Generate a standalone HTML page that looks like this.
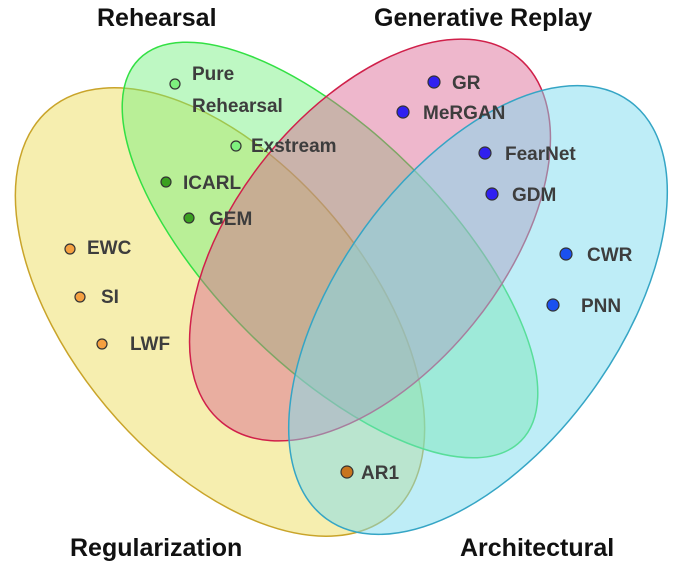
<!DOCTYPE html>
<html><head><style>
html,body{margin:0;padding:0;background:#fff;width:685px;height:564px;overflow:hidden}
svg{display:block}
text{font-family:"Liberation Sans",sans-serif;font-weight:bold}
.l{font-size:19px;fill:#3d3d3d}
.t{font-size:25px;fill:#111}
circle.d{stroke:#333;stroke-width:1.2}
</style></head><body>
<svg width="685" height="564" viewBox="0 0 685 564" xmlns="http://www.w3.org/2000/svg">
<ellipse cx="220" cy="312" rx="265" ry="148" transform="rotate(50 220 312)" fill="#f0e27a" fill-opacity="0.6" stroke="#c9a42a" stroke-width="1.5"/>
<ellipse cx="330" cy="250" rx="270" ry="116" transform="rotate(45 330 250)" fill="#6ef07a" fill-opacity="0.45" stroke="#33e044" stroke-width="1.5"/>
<ellipse cx="370" cy="240" rx="235" ry="133" transform="rotate(-51 370 240)" fill="#d9608f" fill-opacity="0.45" stroke="#d0204a" stroke-width="1.5"/>
<ellipse cx="478" cy="310" rx="258" ry="140" transform="rotate(-54 478 310)" fill="#7ddcf0" fill-opacity="0.5" stroke="#35a5c5" stroke-width="1.5"/>

<text class="t" x="97" y="26">Rehearsal</text>
<text class="t" x="374" y="26">Generative Replay</text>
<text class="t" x="70" y="556">Regularization</text>
<text class="t" x="460" y="556">Architectural</text>

<circle class="d" cx="175" cy="84" r="5" fill="#7ef07e"/>
<text class="l" x="192" y="80">Pure</text>
<text class="l" x="192" y="112">Rehearsal</text>
<circle class="d" cx="236" cy="146" r="5" fill="#7ef07e"/>
<text class="l" x="251" y="152">Exstream</text>
<circle class="d" cx="166" cy="182" r="5" fill="#3aa020"/>
<text class="l" x="183" y="189">ICARL</text>
<circle class="d" cx="189" cy="218" r="5" fill="#3aa020"/>
<text class="l" x="209" y="225">GEM</text>
<circle class="d" cx="70" cy="249" r="5" fill="#f5a040"/>
<text class="l" x="87" y="254">EWC</text>
<circle class="d" cx="80" cy="297" r="5" fill="#f5a040"/>
<text class="l" x="101" y="303">SI</text>
<circle class="d" cx="102" cy="344" r="5" fill="#f5a040"/>
<text class="l" x="130" y="350">LWF</text>
<circle class="d" cx="347" cy="472" r="6" fill="#c8741e"/>
<text class="l" x="361" y="479">AR1</text>
<circle class="d" cx="434" cy="82" r="6" fill="#3020f0"/>
<text class="l" x="452" y="89">GR</text>
<circle class="d" cx="403" cy="112" r="6" fill="#3020f0"/>
<text class="l" x="423" y="119">MeRGAN</text>
<circle class="d" cx="485" cy="153" r="6" fill="#3020f0"/>
<text class="l" x="505" y="160">FearNet</text>
<circle class="d" cx="492" cy="194" r="6" fill="#3020f0"/>
<text class="l" x="512" y="201">GDM</text>
<circle class="d" cx="566" cy="254" r="6" fill="#1a50f0"/>
<text class="l" x="587" y="261">CWR</text>
<circle class="d" cx="553" cy="305" r="6" fill="#1a50f0"/>
<text class="l" x="581" y="312">PNN</text>
</svg>
</body></html>
